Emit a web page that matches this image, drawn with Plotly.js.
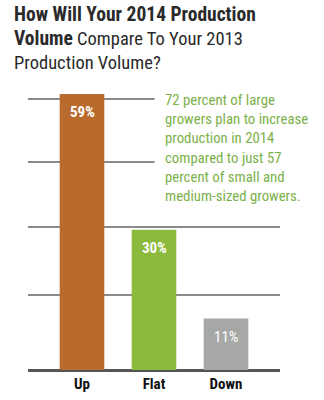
<!DOCTYPE html>
<html>
<head>
<meta charset="utf-8">
<script src="https://cdn.plot.ly/plotly-3.0.1.min.js"></script>
<style>html,body{margin:0;padding:0;background:#fff;}#chart{width:324px;height:400px;}</style>
</head>
<body>
<div id="chart"></div>
<script>
var categories = ["Up", "Flat", "Down"];
var values = [59, 30, 11];
var valueLabels = ["59%", "30%", "11%"];
var barColors = ["#b96b2d", "#8cba3c", "#a6a8a6"];
var gridVals = [16, 30.5, 44.5, 58];
var noteText = "72 percent of large<br>growers plan to increase<br>production in 2014<br>compared to just 57<br>percent of small and<br>medium-sized growers.";
var titleText = "<b><span style=\"font-size:19.5px\">How Will Your 2014 Production</span><br><span style=\"font-size:19.5px\">Volume</span></b> Compare To Your 2013<br>Production Volume?";

var NARROW = "'Liberation Sans Narrow', 'Arial Narrow', 'Roboto Condensed', sans-serif";

var trace = {
  type: "bar",
  x: categories,
  y: values,
  width: 0.62,
  marker: {color: barColors, line: {width: 0}},
  hoverinfo: "none",
  textposition: "none"
};

var annotations = categories.map(function(c, i) {
  return {
    x: c, y: values[i], xref: "x", yref: "y",
    text: valueLabels[i], showarrow: false,
    yanchor: "middle", yshift: -18,
    font: {family: NARROW, size: 15, color: "#ffffff", weight: i === 2 ? "normal" : "bold"}
  };
});
annotations.push({
  xref: "paper", yref: "paper", x: (154 - 28) / 252, y: 1.0,
  xanchor: "left", yanchor: "top", align: "left",
  text: noteText, showarrow: false,
  bgcolor: "#ffffff", borderpad: 10,
  font: {family: NARROW, size: 14.8, color: "#7cb14a"}
});

var layout = {
  width: 324, height: 400,
  margin: {l: 28, r: 44, t: 80, b: 30},
  paper_bgcolor: "#ffffff", plot_bgcolor: "#ffffff",
  showlegend: false,
  title: {
    text: titleText,
    xref: "container", yref: "container",
    x: 14/324, xanchor: "left", y: 1 - 21/400, yanchor: "top",
    font: {family: NARROW, size: 18.5, color: "#2a2a2a"}
  },
  xaxis: {
    type: "category",
    range: [-0.75, 2.75],
    showgrid: false, zeroline: false, showline: false,
    ticks: "", ticklabelstandoff: 3,
    tickfont: {family: NARROW, size: 15, color: "#111111", weight: "bold"},
    fixedrange: true
  },
  yaxis: {
    range: [0, 62],
    tickvals: gridVals,
    showticklabels: false,
    showgrid: true, gridcolor: "#8a8a8a", gridwidth: 2,
    zeroline: true, zerolinecolor: "#555555", zerolinewidth: 3,
    showline: false, ticks: "",
    fixedrange: true
  },
  annotations: annotations
};

Plotly.newPlot("chart", [trace], layout, {displayModeBar: false, staticPlot: true});
</script>
</body>
</html>
